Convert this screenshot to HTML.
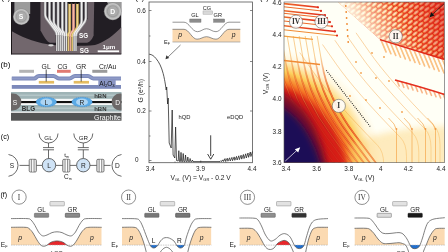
<!DOCTYPE html>
<html><head><meta charset="utf-8"><title>Figure</title>
<style>
html,body{margin:0;padding:0;background:#fff;width:448px;height:252px;overflow:hidden;position:relative;}
svg{display:block;position:absolute;left:0;top:0;}
text{font-family:"Liberation Sans",Arial,sans-serif;}
.serif,.serif text{font-family:"Liberation Serif","Times New Roman",serif;}
</style></head><body>
<svg width="448" height="252" viewBox="0 0 448 252">
<defs>
  <clipPath id="semclip"><rect x="11" y="2" width="110.5" height="52.5"/></clipPath>
  <clipPath id="hmclip"><rect x="284" y="2" width="160.6" height="160.7"/></clipPath>
  <radialGradient id="pad" cx="0.5" cy="0.5" r="0.5">
    <stop offset="0" stop-color="#a8a8a8"/><stop offset="0.6" stop-color="#9c9c9c"/><stop offset="0.85" stop-color="#c8c8c8"/><stop offset="1" stop-color="#8a8a8a"/>
  </radialGradient>
    <radialGradient id="hmell" gradientUnits="userSpaceOnUse" cx="0" cy="0" r="125" fx="0" fy="0" gradientTransform="translate(245.6,168.5) scale(1.1,1)">
    <stop offset="0" stop-color="#8c0e26"/>
    <stop offset="0.55" stop-color="#8c0e26"/>
    <stop offset="0.60" stop-color="#cc1c18"/>
    <stop offset="0.692" stop-color="#de2e1a"/>
    <stop offset="0.745" stop-color="#f47a26"/>
    <stop offset="0.828" stop-color="#fcd05c"/>
    <stop offset="0.924" stop-color="#fff6dc"/>
    <stop offset="1" stop-color="#fffff6"/>
  </radialGradient>
  <radialGradient id="lightzoneg" gradientUnits="userSpaceOnUse" cx="0" cy="0" r="125" fx="0" fy="0" gradientTransform="translate(245.6,168.5) scale(1.1,1)">
    <stop offset="0" stop-color="#000"/><stop offset="0.64" stop-color="#000"/><stop offset="0.72" stop-color="#fff"/><stop offset="1" stop-color="#fff"/>
  </radialGradient>
  <radialGradient id="darkzoneg" gradientUnits="userSpaceOnUse" cx="0" cy="0" r="125" fx="0" fy="0" gradientTransform="translate(245.6,168.5) scale(1.1,1)">
    <stop offset="0" stop-color="#000"/><stop offset="0.50" stop-color="#000"/><stop offset="0.57" stop-color="#fff"/><stop offset="0.66" stop-color="#fff"/><stop offset="0.72" stop-color="#000"/><stop offset="1" stop-color="#000"/>
  </radialGradient>
  <mask id="lightzone" maskUnits="userSpaceOnUse" x="284" y="0" width="162" height="164"><rect x="284" y="0" width="162" height="164" fill="url(#lightzoneg)"/></mask>
  <mask id="darkzone" maskUnits="userSpaceOnUse" x="284" y="0" width="162" height="164"><rect x="284" y="0" width="162" height="164" fill="url(#darkzoneg)"/></mask>
  <filter id="blur3" x="-20%" y="-20%" width="140%" height="140%"><feGaussianBlur stdDeviation="3"/></filter>
  <filter id="blur2" x="-20%" y="-20%" width="140%" height="140%"><feGaussianBlur stdDeviation="2.2"/></filter>
  <linearGradient id="stripefade" gradientUnits="userSpaceOnUse" x1="0" y1="56" x2="0" y2="96">
    <stop offset="0" stop-color="#fff" stop-opacity="0"/>
    <stop offset="1" stop-color="#fff" stop-opacity="1"/>
  </linearGradient>
  <mask id="stripemask" maskUnits="userSpaceOnUse" x="284" y="0" width="162" height="164"><rect x="284" y="0" width="162" height="164" fill="url(#stripefade)"/></mask>
  <linearGradient id="redg" gradientUnits="userSpaceOnUse" x1="360" y1="40" x2="444" y2="2">
    <stop offset="0" stop-color="#f47040"/>
    <stop offset="0.25" stop-color="#ea3a20"/>
    <stop offset="0.6" stop-color="#e42418"/>
    <stop offset="1" stop-color="#d81414"/>
  </linearGradient>
  <linearGradient id="latfade" gradientUnits="userSpaceOnUse" x1="360" y1="40" x2="444" y2="2">
    <stop offset="0" stop-color="#fff" stop-opacity="1"/>
    <stop offset="0.45" stop-color="#fff" stop-opacity="0.9"/>
    <stop offset="1" stop-color="#fff" stop-opacity="0.3"/>
  </linearGradient>
  <mask id="latmask" maskUnits="userSpaceOnUse" x="284" y="0" width="162" height="164"><rect x="284" y="0" width="162" height="164" fill="url(#latfade)"/></mask>
  <pattern id="lat" patternUnits="userSpaceOnUse" x="0" y="0" width="7" height="8.0" patternTransform="rotate(-38 400 30)">
    <ellipse cx="3.5" cy="2.0" rx="3.2" ry="1.55" fill="#ffe070"/>
    <ellipse cx="0" cy="6.0" rx="3.2" ry="1.55" fill="#ffe070"/>
    <ellipse cx="7" cy="6.0" rx="3.2" ry="1.55" fill="#ffe070"/>
    <ellipse cx="3.5" cy="2.0" rx="2.1" ry="0.9" fill="#fff8d8"/>
    <ellipse cx="0" cy="6.0" rx="2.1" ry="0.9" fill="#fff8d8"/>
    <ellipse cx="7" cy="6.0" rx="2.1" ry="0.9" fill="#fff8d8"/>
  </pattern>
  <linearGradient id="leftfade" gradientUnits="userSpaceOnUse" x1="356" y1="24" x2="392" y2="2">
    <stop offset="0" stop-color="#fffff6" stop-opacity="0.85"/>
    <stop offset="0.5" stop-color="#fffff6" stop-opacity="0.4"/>
    <stop offset="1" stop-color="#fffff6" stop-opacity="0"/>
  </linearGradient>
  <linearGradient id="hline" gradientUnits="userSpaceOnUse" x1="284" y1="0" x2="336" y2="0">
    <stop offset="0" stop-color="#ee6a2c"/>
    <stop offset="0.5" stop-color="#e63e20"/>
    <stop offset="1" stop-color="#de2a1c"/>
  </linearGradient>
  <clipPath id="lowclip"><rect x="284" y="118" width="161" height="45"/></clipPath>
  <clipPath id="upclip"><rect x="284" y="2" width="161" height="118"/></clipPath>
</defs>

<!-- ============ (a) SEM ============ -->
<text x="1.5" y="0.4" font-size="7">(a)</text>
<g clip-path="url(#semclip)">
  <rect x="11" y="2" width="110.5" height="52.5" fill="#221e24"/>
  <!-- bottom mauve -->
  <path d="M11,30.7 C20,36 32,41.5 48,44.3 C60,46 80,46.5 95,45 C105,42 114,35 121.5,27 L121.5,54.5 L11,54.5 Z" fill="#72676d"/>
  <!-- central mauve -->
  <path d="M40.5,2 L94.2,2 L93.6,35.5 C92,40 89,42.8 86,42.8 L50,42.8 C47,42 44,37 40.5,30.5 Z" fill="#6a5f66"/>
  <!-- S pad -->
  <rect x="14.4" y="0" width="15.8" height="14" fill="#9c9c9c"/>
  <circle cx="21.3" cy="16.7" r="8.3" fill="url(#pad)"/>
  <circle cx="21.3" cy="16.7" r="4.8" fill="#acacac"/>
  <!-- D pad -->
  <path d="M106,0 L121.5,0 L121.5,12 L110,8 Z" fill="#9a9a9a"/>
  <circle cx="112.8" cy="11.3" r="8.9" fill="url(#pad)"/>
  <circle cx="112.8" cy="11.3" r="5" fill="#acacac"/>
  <path d="M43.8,0 L43.8,15.5 L55.8,32.5 L55.8,51 L77,51 L77,33.5 L87.6,19 L87.6,0 Z" fill="#2e2930"/>
<path d="M45.20,0 L45.20,14.34 Q45.20,16.84 46.59,18.72 L55.41,30.62 Q56.80,32.50 56.80,35.00" fill="none" stroke="#a4a4a6" stroke-width="2.7" stroke-linejoin="round"/>
<path d="M49.50,0 L49.50,17.70 Q49.50,20.20 50.62,21.70 L57.68,31.24 Q58.80,32.75 58.80,35.25" fill="none" stroke="#a4a4a6" stroke-width="2.7" stroke-linejoin="round"/>
<path d="M53.80,0 L53.80,21.05 Q53.80,23.55 54.64,24.68 L59.96,31.87 Q60.80,33.00 60.80,35.50" fill="none" stroke="#a4a4a6" stroke-width="2.7" stroke-linejoin="round"/>
<path d="M58.10,0 L58.10,24.54 Q58.10,27.04 58.65,27.79 L62.15,32.50 Q62.70,33.25 62.70,35.75" fill="none" stroke="#a4a4a6" stroke-width="2.7" stroke-linejoin="round"/>
<path d="M62.40,0 L62.40,28.03 Q62.40,30.53 62.66,30.89 L64.34,33.14 Q64.60,33.50 64.60,36.00" fill="none" stroke="#a4a4a6" stroke-width="2.7" stroke-linejoin="round"/>
<path d="M66.20,0 L66.20,30.85 Q66.20,33.35 66.24,33.39 L66.46,33.70 Q66.50,33.75 66.50,36.25" fill="none" stroke="#a4a4a6" stroke-width="2.7" stroke-linejoin="round"/>
<path d="M69.60,0 L69.60,29.88 Q69.60,32.38 69.46,32.57 L68.54,33.81 Q68.40,34.00 68.40,36.50" fill="none" stroke="#c8a850" stroke-width="2.7" stroke-linejoin="round"/>
<path d="M73.50,0 L73.50,27.43 Q73.50,29.93 73.12,30.45 L70.68,33.73 Q70.30,34.25 70.30,36.75" fill="none" stroke="#d89080" stroke-width="2.7" stroke-linejoin="round"/>
<path d="M77.40,0 L77.40,24.98 Q77.40,27.48 76.78,28.32 L72.82,33.66 Q72.20,34.50 72.20,37.00" fill="none" stroke="#c8a850" stroke-width="2.7" stroke-linejoin="round"/>
<path d="M81.60,0 L81.60,20.88 Q81.60,23.38 80.70,24.59 L75.00,32.28 Q74.10,33.50 74.10,36.00" fill="none" stroke="#a4a4a6" stroke-width="2.7" stroke-linejoin="round"/>
<path d="M85.80,0 L85.80,17.77 Q85.80,20.27 84.62,21.86 L77.18,31.91 Q76.00,33.50 76.00,36.00" fill="none" stroke="#a4a4a6" stroke-width="2.7" stroke-linejoin="round"/>
<path d="M45.20,0 L45.20,14.34 Q45.20,16.84 46.59,18.72 L55.41,30.62 Q56.80,32.50 56.80,35.00" fill="none" stroke="#f0f0f0" stroke-width="1.3" stroke-linejoin="round"/>
<path d="M49.50,0 L49.50,17.70 Q49.50,20.20 50.62,21.70 L57.68,31.24 Q58.80,32.75 58.80,35.25" fill="none" stroke="#f0f0f0" stroke-width="1.3" stroke-linejoin="round"/>
<path d="M53.80,0 L53.80,21.05 Q53.80,23.55 54.64,24.68 L59.96,31.87 Q60.80,33.00 60.80,35.50" fill="none" stroke="#f0f0f0" stroke-width="1.3" stroke-linejoin="round"/>
<path d="M58.10,0 L58.10,24.54 Q58.10,27.04 58.65,27.79 L62.15,32.50 Q62.70,33.25 62.70,35.75" fill="none" stroke="#f0f0f0" stroke-width="1.3" stroke-linejoin="round"/>
<path d="M62.40,0 L62.40,28.03 Q62.40,30.53 62.66,30.89 L64.34,33.14 Q64.60,33.50 64.60,36.00" fill="none" stroke="#f0f0f0" stroke-width="1.3" stroke-linejoin="round"/>
<path d="M66.20,0 L66.20,30.85 Q66.20,33.35 66.24,33.39 L66.46,33.70 Q66.50,33.75 66.50,36.25" fill="none" stroke="#f0f0f0" stroke-width="1.3" stroke-linejoin="round"/>
<path d="M69.60,0 L69.60,29.88 Q69.60,32.38 69.46,32.57 L68.54,33.81 Q68.40,34.00 68.40,36.50" fill="none" stroke="#ecd490" stroke-width="1.3" stroke-linejoin="round"/>
<path d="M73.50,0 L73.50,27.43 Q73.50,29.93 73.12,30.45 L70.68,33.73 Q70.30,34.25 70.30,36.75" fill="none" stroke="#f4b8a8" stroke-width="1.3" stroke-linejoin="round"/>
<path d="M77.40,0 L77.40,24.98 Q77.40,27.48 76.78,28.32 L72.82,33.66 Q72.20,34.50 72.20,37.00" fill="none" stroke="#ecd490" stroke-width="1.3" stroke-linejoin="round"/>
<path d="M81.60,0 L81.60,20.88 Q81.60,23.38 80.70,24.59 L75.00,32.28 Q74.10,33.50 74.10,36.00" fill="none" stroke="#f0f0f0" stroke-width="1.3" stroke-linejoin="round"/>
<path d="M85.80,0 L85.80,17.77 Q85.80,20.27 84.62,21.86 L77.18,31.91 Q76.00,33.50 76.00,36.00" fill="none" stroke="#f0f0f0" stroke-width="1.3" stroke-linejoin="round"/>
<path d="M56.80,34.90 L56.80,51" fill="none" stroke="#a4a4a6" stroke-width="1.6"/>
<path d="M58.80,35.15 L58.80,51" fill="none" stroke="#a4a4a6" stroke-width="1.6"/>
<path d="M60.80,35.40 L60.80,51" fill="none" stroke="#a4a4a6" stroke-width="1.6"/>
<path d="M62.70,35.65 L62.70,51" fill="none" stroke="#a4a4a6" stroke-width="1.6"/>
<path d="M64.60,35.90 L64.60,51" fill="none" stroke="#a4a4a6" stroke-width="1.6"/>
<path d="M66.50,36.15 L66.50,51" fill="none" stroke="#a4a4a6" stroke-width="1.6"/>
<path d="M68.40,36.40 L68.40,51" fill="none" stroke="#c8a850" stroke-width="1.6"/>
<path d="M70.30,36.65 L70.30,51" fill="none" stroke="#d89080" stroke-width="1.6"/>
<path d="M72.20,36.90 L72.20,51" fill="none" stroke="#c8a850" stroke-width="1.6"/>
<path d="M74.10,35.90 L74.10,51" fill="none" stroke="#a4a4a6" stroke-width="1.6"/>
<path d="M76.00,35.90 L76.00,51" fill="none" stroke="#a4a4a6" stroke-width="1.6"/>
<path d="M56.80,34.90 L56.80,51" fill="none" stroke="#f0f0f0" stroke-width="0.8"/>
<path d="M58.80,35.15 L58.80,51" fill="none" stroke="#f0f0f0" stroke-width="0.8"/>
<path d="M60.80,35.40 L60.80,51" fill="none" stroke="#f0f0f0" stroke-width="0.8"/>
<path d="M62.70,35.65 L62.70,51" fill="none" stroke="#f0f0f0" stroke-width="0.8"/>
<path d="M64.60,35.90 L64.60,51" fill="none" stroke="#f0f0f0" stroke-width="0.8"/>
<path d="M66.50,36.15 L66.50,51" fill="none" stroke="#f0f0f0" stroke-width="0.8"/>
<path d="M68.40,36.40 L68.40,51" fill="none" stroke="#ecd490" stroke-width="0.8"/>
<path d="M70.30,36.65 L70.30,51" fill="none" stroke="#f4b8a8" stroke-width="0.8"/>
<path d="M72.20,36.90 L72.20,51" fill="none" stroke="#ecd490" stroke-width="0.8"/>
<path d="M74.10,35.90 L74.10,51" fill="none" stroke="#f0f0f0" stroke-width="0.8"/>
<path d="M76.00,35.90 L76.00,51" fill="none" stroke="#f0f0f0" stroke-width="0.8"/>
<circle cx="69.6" cy="2.4" r="1.7" fill="#0e0e0e"/>
<circle cx="73.5" cy="2.4" r="1.7" fill="#0e0e0e"/>
<circle cx="77.4" cy="2.4" r="1.7" fill="#0e0e0e"/>
  <rect x="11" y="2" width="1" height="52.5" fill="#1a1618"/>
  <rect x="11" y="53.6" width="110.5" height="0.9" fill="#1a1618"/>
  <ellipse cx="51" cy="45.3" rx="2.8" ry="1.1" fill="#d8d8d8"/>
  <rect x="97.7" y="50.4" width="21.4" height="1.8" fill="#fff"/>
</g>
<g fill="#fff" font-size="6.4">
  <text x="20.9" y="19.3" text-anchor="middle" font-size="6.8" font-weight="bold">S</text>
  <text x="112.8" y="13.9" text-anchor="middle" font-size="6.8" font-weight="bold">D</text>
  <text x="79" y="38" font-size="6.3" font-weight="bold">SG</text>
  <text x="79.8" y="53.2" font-size="6.3" font-weight="bold">SG</text>
  <text x="102.6" y="48.7" font-size="6.2" font-weight="bold">1μm</text>
</g>

<!-- ============ (b) ============ -->
<text x="0.6" y="66.6" font-size="8">(b)</text>
<g font-size="6.8" fill="#222">
  <text x="41.6" y="68.6">GL</text>
  <text x="57.4" y="68.6">CG</text>
  <text x="76" y="68.6">GR</text>
  <text x="99" y="68.6">Cr/Au</text>
</g>
<rect x="19.2" y="69.8" width="14.8" height="3" fill="#b4b4b4"/>
<rect x="57" y="69.8" width="13.7" height="3" fill="#e07a72"/>
<rect x="92.3" y="69.8" width="15" height="3" fill="#9a9a9a"/>
<path d="M11.8,78.5 L34.5,78.5 C36,78.5 36.5,76 39,76 L53.5,76 C56,76 56.5,78.5 59,78.5 L69.5,78.5 C72,78.5 72.5,76 75,76 L88,76 C90.5,76 91,78.5 93.5,78.5 L121,78.5" fill="none" stroke="#7c89ba" stroke-width="4.2"/>
<path d="M11.8,78.5 L34.5,78.5 C36,78.5 36.5,76 39,76 L53.5,76 C56,76 56.5,78.5 59,78.5 L69.5,78.5 C72,78.5 72.5,76 75,76 L88,76 C90.5,76 91,78.5 93.5,78.5 L121,78.5" fill="none" stroke="#8e9ac6" stroke-width="2"/>
<rect x="38.8" y="80.9" width="15.3" height="2.7" fill="#e4bc62"/>
<rect x="73.7" y="80.9" width="15.3" height="2.7" fill="#e4bc62"/>
<line x1="46.2" y1="69.5" x2="46.2" y2="81.5" stroke="#111" stroke-width="0.7"/>
<line x1="81.2" y1="69.5" x2="81.2" y2="81.5" stroke="#111" stroke-width="0.7"/>
<rect x="11.8" y="85" width="109.2" height="3.8" fill="#7c89ba"/>
<rect x="98.3" y="80" width="17.4" height="6" fill="#8a96c4"/>
<text x="99.2" y="85.8" font-size="6.4" fill="#111">Al<tspan font-size="4.2" dy="1.2">2</tspan><tspan dy="-1.2">O</tspan><tspan font-size="4.2" dy="1.2">3</tspan></text>

<!-- hBN stack -->
<rect x="11" y="92" width="110.5" height="19.6" fill="#9fb4b6"/>
<rect x="11" y="94.5" width="110.5" height="1.6" fill="#b4c6c8"/>
<rect x="11" y="107.5" width="110.5" height="1.6" fill="#b4c6c8"/>
<rect x="11" y="98.8" width="110.5" height="6.2" fill="#f6f8f8"/>
<rect x="11" y="101" width="110.5" height="2.1" fill="#111"/>
<rect x="11" y="112.8" width="110.5" height="7.9" fill="#545454"/>
<path d="M11,93.8 A8.3,8.3 0 0 1 11,110.4 Z" transform="translate(0,0)" fill="#6c6868"/>
<path d="M11,93.6 L13,93.6 A8.4,8.4 0 0 1 13,110.4 L11,110.4 Z" fill="#6c6868"/>
<path d="M121.5,93.6 L120,93.6 A8.4,8.4 0 0 0 120,110.4 L121.5,110.4 Z" fill="#6c6868"/>
<ellipse cx="46.3" cy="102" rx="10.3" ry="4.8" fill="#5aaae6" stroke="#3a7cc0" stroke-width="0.5" stroke-dasharray="1,0.8"/>
<ellipse cx="46.3" cy="102" rx="6" ry="3.6" fill="#cfe6f8" opacity="0.7"/>
<ellipse cx="82" cy="102" rx="10.3" ry="4.8" fill="#5aaae6" stroke="#3a7cc0" stroke-width="0.5" stroke-dasharray="1,0.8"/>
<ellipse cx="82" cy="102" rx="6" ry="3.6" fill="#cfe6f8" opacity="0.7"/>
<g font-size="6.6" fill="#222">
  <text x="46.3" y="104.6" text-anchor="middle">L</text>
  <text x="82" y="104.6" text-anchor="middle">R</text>
  <text x="21.8" y="111.3" font-size="6.3" font-weight="bold" fill="#333">BLG</text>
  <text x="94.2" y="97.7" font-size="6" font-weight="bold" fill="#333">hBN</text>
  <text x="94.2" y="110.9" font-size="6" font-weight="bold" fill="#333">hBN</text>
</g>
<text x="15" y="104.6" font-size="6.6" fill="#fff" text-anchor="middle">S</text>
<text x="117.6" y="104.6" font-size="6.6" fill="#fff" text-anchor="middle">D</text>
<text x="94" y="120" font-size="7" fill="#fff">Graphite</text>

<!-- ============ (c) ============ -->
<text x="0.8" y="138.8" font-size="7.2">(c)</text>
<g fill="none" stroke="#444" stroke-width="0.8">
  <!-- S, D arcs -->
  <path d="M8.5,154.5 A11,11 0 0 1 8.5,176.3"/>
  <path d="M121.5,154.5 A11,11 0 0 0 121.5,176.3"/>
  <!-- main line -->
  <line x1="19.5" y1="165.4" x2="42.2" y2="165.4"/>
  <line x1="55.8" y1="165.4" x2="76.6" y2="165.4"/>
  <line x1="90" y1="165.4" x2="110.6" y2="165.4"/>
  <!-- bowls -->
  <path d="M39,133.5 A9.5,9.5 0 0 0 58,133.5"/>
  <path d="M73.8,133.5 A9.5,9.5 0 0 0 92.8,133.5"/>
  <line x1="48.5" y1="143" x2="48.5" y2="147.6"/>
  <line x1="48.5" y1="149.8" x2="48.5" y2="158.4"/>
  <line x1="83.3" y1="143" x2="83.3" y2="147.6"/>
  <line x1="83.3" y1="149.8" x2="83.3" y2="158.4"/>
  <line x1="43" y1="147.6" x2="54" y2="147.6"/>
  <line x1="43" y1="149.8" x2="54" y2="149.8"/>
  <line x1="77.8" y1="147.6" x2="88.8" y2="147.6"/>
  <line x1="77.8" y1="149.8" x2="88.8" y2="149.8"/>
</g>
<rect x="29.2" y="159.3" width="7.2" height="12.7" rx="1.2" fill="#e4e4e4" stroke="#555" stroke-width="0.75"/>
<rect x="31.8" y="159.7" width="2.0" height="11.9" fill="#fff"/>
<line x1="31.6" y1="159.3" x2="31.6" y2="172" stroke="#555" stroke-width="0.6"/>
<line x1="34.0" y1="159.3" x2="34.0" y2="172" stroke="#555" stroke-width="0.6"/>
<rect x="62.7" y="159.3" width="7.2" height="12.7" rx="1.2" fill="#e4e4e4" stroke="#555" stroke-width="0.75"/>
<rect x="65.3" y="159.7" width="2.0" height="11.9" fill="#fff"/>
<line x1="65.1" y1="159.3" x2="65.1" y2="172" stroke="#555" stroke-width="0.6"/>
<line x1="67.5" y1="159.3" x2="67.5" y2="172" stroke="#555" stroke-width="0.6"/>
<rect x="96.8" y="159.3" width="7.2" height="12.7" rx="1.2" fill="#e4e4e4" stroke="#555" stroke-width="0.75"/>
<rect x="99.4" y="159.7" width="2.0" height="11.9" fill="#fff"/>
<line x1="99.2" y1="159.3" x2="99.2" y2="172" stroke="#555" stroke-width="0.6"/>
<line x1="101.6" y1="159.3" x2="101.6" y2="172" stroke="#555" stroke-width="0.6"/>
<circle cx="49" cy="165.2" r="6.7" fill="#cfe3f6" stroke="#444" stroke-width="0.8"/>
<circle cx="83.3" cy="165.2" r="6.7" fill="#cfe3f6" stroke="#444" stroke-width="0.8"/>
<g font-size="6.6" fill="#222" text-anchor="middle">
  <text x="49" y="167.6">L</text>
  <text x="83.3" y="167.6">R</text>
  <text x="48.5" y="140.2" font-size="6.2">GL</text>
  <text x="83.3" y="140.2" font-size="6.2">GR</text>
  <text x="12" y="168">S</text>
  <text x="117.5" y="168">D</text>
</g>
<text x="64.2" y="156.8" font-size="6.2" fill="#222">t<tspan font-size="3.6" dy="1">m</tspan></text>
<text x="64" y="179" font-size="6.4" fill="#222">C<tspan font-size="3.6" dy="1">m</tspan></text>

<!-- ============ (d) ============ -->
<text x="135.5" y="0.4" font-size="7">(d)</text>
<rect x="149" y="2" width="103.5" height="160.7" fill="none" stroke="#555" stroke-width="0.8"/>
<g stroke="#555" stroke-width="0.7">
  <line x1="149" y1="10.5" x2="151.5" y2="10.5"/>
  <line x1="149" y1="36" x2="150.5" y2="36"/>
  <line x1="149" y1="61.5" x2="151.5" y2="61.5"/>
  <line x1="149" y1="86.5" x2="150.5" y2="86.5"/>
  <line x1="149" y1="111" x2="151.5" y2="111"/>
  <line x1="149" y1="136" x2="150.5" y2="136"/>
  <line x1="149" y1="160.5" x2="151.5" y2="160.5"/>
  <line x1="252.5" y1="10.5" x2="250" y2="10.5"/>
  <line x1="252.5" y1="61.5" x2="250" y2="61.5"/>
  <line x1="252.5" y1="111" x2="250" y2="111"/>
  <line x1="200.75" y1="162.7" x2="200.75" y2="160.5"/>
  <line x1="175" y1="162.7" x2="175" y2="161.5"/>
  <line x1="226" y1="162.7" x2="226" y2="161.5"/>
</g>
<g font-size="6.4" fill="#222" text-anchor="end">
  <text x="145.8" y="12.6">0.6</text>
  <text x="145.8" y="63.8">0.4</text>
  <text x="145.8" y="113.2">0.2</text>
  <text x="138.6" y="162.2">0</text>
</g>
<g font-size="6.4" fill="#222" text-anchor="middle">
  <text x="150.3" y="170.6">3.4</text>
  <text x="200.5" y="170.6">3.9</text>
  <text x="252" y="170.6">4.4</text>
</g>
<text transform="translate(143.4,102.4) rotate(-90)" font-size="6.8" fill="#222">G (e<tspan font-size="4.2" dy="-2.2">2</tspan><tspan dy="2.2">/h)</tspan></text>
<text x="170.6" y="179.6" font-size="6.7" fill="#222">V<tspan font-size="4" dy="1.2">GL</tspan><tspan dy="-1.2"> (V) = V</tspan><tspan font-size="4" dy="1.2">GR</tspan><tspan dy="-1.2"> - 0.2 V</tspan></text>
<text x="178.6" y="119.4" font-size="5.8" fill="#222">hQD</text>
<text x="227" y="119.4" font-size="5.8" fill="#222">eDQD</text>
<!-- G curve -->
<path d="M149.2,54.2 C152,54.5 154,56 156,58.5 C159,62 161.5,67 163.2,73.6 C164.3,78 164.8,81 165.3,84
 L166.2,90 L166.7,87 L167.6,104 L168.2,98 L169.2,143 L171.2,148 L172.2,110 L173.1,155 L174.8,158 L175.6,127 L176.5,160.5 L178.2,161 L178.8,150.7 L179.5,161.5 L180.4,161.5 L181,152.4 L181.7,161.6 L182.6,161.6 L183.2,153.5 L183.9,161.6 L184.9,161.6 L185.5,155 L186.2,161.6 L187.2,161.6 L187.8,157 L188.5,161.6 L189.5,161.6 L190.1,158.5 L190.8,161.6 L191.8,161.6 L192.4,160 L193,161.6 L220,161.6
 L221,160.6 L221.6,161.6 L223,159.8 L223.6,161.5 L225,158.6 L225.6,161.4 L227.3,158.2 L227.9,161.2 L229.6,157.8 L230.2,161 L231.9,157.4 L232.5,160.7 L234.2,156.9 L234.8,160.3 L236.5,156.4 L237.1,160 L238.8,155.8 L239.4,159.6 L241.1,155.2 L241.7,159.1 L243.4,154.5 L244,158.6 L245.7,153.8 L246.3,158 L248,153 L248.6,157.3 L250.3,152 L250.9,156.5 L252.5,151.5"
 fill="none" stroke="#222" stroke-width="0.75" stroke-linejoin="round"/>
<!-- arrows -->
<line x1="180.5" y1="45" x2="167.5" y2="57.5" stroke="#333" stroke-width="0.6"/>
<path d="M165.5,59.3 L166.4,55.3 L169.2,58 Z" fill="#333"/>
<line x1="210.7" y1="135.3" x2="210.7" y2="156" stroke="#111" stroke-width="0.8"/>
<path d="M207.6,154 L210.7,159.2 L213.8,154" fill="none" stroke="#111" stroke-width="0.8"/>
<!-- inset -->
<path d="M172.5,29.3 L184,29.3 C189,29.3 192,39.2 197,39.2 C201,39.2 203,36.7 206.5,36.7 C210,36.7 212,39.2 216,39.2 C221,39.2 224,29.3 229,29.3 L240.3,29.3 L240.3,42 L172.5,42 Z" fill="#fbd9b0"/>
<path d="M172.5,29.3 L184,29.3 C189,29.3 192,39.2 197,39.2 C201,39.2 203,36.7 206.5,36.7 C210,36.7 212,39.2 216,39.2 C221,39.2 224,29.3 229,29.3 L240.3,29.3" fill="none" stroke="#666" stroke-width="0.7"/>
<path d="M172.5,22.2 L184,22.2 C189,22.2 192,31.7 197.5,31.7 C201,31.7 203,28.7 206.5,28.7 C210,28.7 212,31.7 216,31.7 C221,31.7 224,22.2 229,22.2 L240.3,22.2" fill="none" stroke="#666" stroke-width="0.7"/>
<line x1="172.5" y1="42" x2="240.3" y2="42" stroke="#999" stroke-width="0.7"/>
<rect x="203" y="10.9" width="9.6" height="3.3" fill="#d8d8d8" stroke="#999" stroke-width="0.4"/>
<rect x="189.8" y="19" width="11.2" height="3.2" fill="#8c8c8c" stroke="#666" stroke-width="0.4"/>
<rect x="213.6" y="19" width="11" height="3.2" fill="#8c8c8c" stroke="#666" stroke-width="0.4"/>
<g font-size="5.6" fill="#222">
  <text x="202.7" y="9.9">CG</text>
  <text x="191.2" y="17.4">GL</text>
  <text x="213.6" y="17.4">GR</text>
  <text x="178.2" y="36.6" font-size="6.8" font-style="italic">p</text>
  <text x="231.8" y="36.6" font-size="6.8" font-style="italic">p</text>
  <text x="164" y="44.3">E<tspan font-size="3.6" dy="1">F</tspan></text>
</g>

<!-- ============ (e) heatmap ============ -->
<text x="260" y="0.4" font-size="7">(e)</text>
<g clip-path="url(#hmclip)">
<rect x="284" y="2" width="160.6" height="160.7" fill="url(#hmell)"/>
<g mask="url(#stripemask)"><g mask="url(#lightzone)">
<path d="M259.6,50.2 L262.0,64.0 Q268.0,99.0 295.0,135.0 L349.0,207.0" fill="none" stroke="#e43a1c" stroke-width="1.7" opacity="0.9"/>
<path d="M265.6,50.2 L268.0,64.0 Q274.0,99.0 301.0,135.0 L355.0,207.0" fill="none" stroke="#e43a1c" stroke-width="1.7" opacity="0.9"/>
<path d="M271.6,50.2 L274.0,64.0 Q280.0,99.0 307.0,135.0 L361.0,207.0" fill="none" stroke="#e43a1c" stroke-width="1.7" opacity="0.9"/>
<path d="M277.6,50.2 L280.0,64.0 Q286.0,99.0 313.0,135.0 L367.0,207.0" fill="none" stroke="#e43a1c" stroke-width="1.7" opacity="0.9"/>
<path d="M283.6,50.2 L286.0,64.0 Q292.0,99.0 319.0,135.0 L373.0,207.0" fill="none" stroke="#e43a1c" stroke-width="1.7" opacity="0.9"/>
<path d="M289.6,50.2 L292.0,64.0 Q298.0,99.0 325.0,135.0 L379.0,207.0" fill="none" stroke="#e43a1c" stroke-width="1.7" opacity="0.9"/>
<path d="M295.6,50.2 L298.0,64.0 Q304.0,99.0 331.0,135.0 L385.0,207.0" fill="none" stroke="#e43a1c" stroke-width="1.7" opacity="0.9"/>
<path d="M301.6,50.2 L304.0,64.0 Q310.0,99.0 337.0,135.0 L391.0,207.0" fill="none" stroke="#e43a1c" stroke-width="1.7" opacity="0.9"/>
<path d="M307.6,50.2 L310.0,64.0 Q316.0,99.0 343.0,135.0 L397.0,207.0" fill="none" stroke="#e43a1c" stroke-width="1.7" opacity="0.9"/>
<path d="M313.6,50.2 L316.0,64.0 Q322.0,99.0 349.0,135.0 L403.0,207.0" fill="none" stroke="#e43a1c" stroke-width="1.7" opacity="0.9"/>
<path d="M319.6,50.2 L322.0,64.0 Q328.0,99.0 355.0,135.0 L409.0,207.0" fill="none" stroke="#e43a1c" stroke-width="1.7" opacity="0.9"/>
</g><g mask="url(#darkzone)">
<path d="M259.6,50.2 L262.0,64.0 Q268.0,99.0 295.0,135.0 L349.0,207.0" fill="none" stroke="#700a1c" stroke-width="2.0" opacity="0.5"/>
<path d="M265.6,50.2 L268.0,64.0 Q274.0,99.0 301.0,135.0 L355.0,207.0" fill="none" stroke="#700a1c" stroke-width="2.0" opacity="0.5"/>
<path d="M271.6,50.2 L274.0,64.0 Q280.0,99.0 307.0,135.0 L361.0,207.0" fill="none" stroke="#700a1c" stroke-width="2.0" opacity="0.5"/>
<path d="M277.6,50.2 L280.0,64.0 Q286.0,99.0 313.0,135.0 L367.0,207.0" fill="none" stroke="#700a1c" stroke-width="2.0" opacity="0.5"/>
<path d="M283.6,50.2 L286.0,64.0 Q292.0,99.0 319.0,135.0 L373.0,207.0" fill="none" stroke="#700a1c" stroke-width="2.0" opacity="0.5"/>
<path d="M289.6,50.2 L292.0,64.0 Q298.0,99.0 325.0,135.0 L379.0,207.0" fill="none" stroke="#700a1c" stroke-width="2.0" opacity="0.5"/>
<path d="M295.6,50.2 L298.0,64.0 Q304.0,99.0 331.0,135.0 L385.0,207.0" fill="none" stroke="#700a1c" stroke-width="2.0" opacity="0.5"/>
<path d="M301.6,50.2 L304.0,64.0 Q310.0,99.0 337.0,135.0 L391.0,207.0" fill="none" stroke="#700a1c" stroke-width="2.0" opacity="0.5"/>
<path d="M307.6,50.2 L310.0,64.0 Q316.0,99.0 343.0,135.0 L397.0,207.0" fill="none" stroke="#700a1c" stroke-width="2.0" opacity="0.5"/>
<path d="M313.6,50.2 L316.0,64.0 Q322.0,99.0 349.0,135.0 L403.0,207.0" fill="none" stroke="#700a1c" stroke-width="2.0" opacity="0.5"/>
<path d="M319.6,50.2 L322.0,64.0 Q328.0,99.0 355.0,135.0 L409.0,207.0" fill="none" stroke="#700a1c" stroke-width="2.0" opacity="0.5"/>
</g></g>
<path d="M257.2,36 L262.0,64 Q268.0,99.0 295.0,135.0 L349.0,207.0" fill="none" stroke="#f4a844" stroke-width="0.7" opacity="0.8"/>
<path d="M263.2,36 L268.0,64 Q274.0,99.0 301.0,135.0 L355.0,207.0" fill="none" stroke="#f4a844" stroke-width="0.7" opacity="0.8"/>
<path d="M269.2,36 L274.0,64 Q280.0,99.0 307.0,135.0 L361.0,207.0" fill="none" stroke="#f4a844" stroke-width="0.7" opacity="0.8"/>
<path d="M275.2,36 L280.0,64 Q286.0,99.0 313.0,135.0 L367.0,207.0" fill="none" stroke="#f4a844" stroke-width="0.7" opacity="0.8"/>
<path d="M281.2,36 L286.0,64 Q292.0,99.0 319.0,135.0 L373.0,207.0" fill="none" stroke="#f4a844" stroke-width="0.7" opacity="0.8"/>
<path d="M287.2,36 L292.0,64 Q298.0,99.0 325.0,135.0 L379.0,207.0" fill="none" stroke="#f4a844" stroke-width="0.7" opacity="0.8"/>
<path d="M293.2,36 L298.0,64 Q304.0,99.0 331.0,135.0 L385.0,207.0" fill="none" stroke="#f4a844" stroke-width="0.7" opacity="0.8"/>
<path d="M299.2,36 L304.0,64 Q310.0,99.0 337.0,135.0 L391.0,207.0" fill="none" stroke="#f4a844" stroke-width="0.7" opacity="0.8"/>
<path d="M305.2,36 L310.0,64 Q316.0,99.0 343.0,135.0 L397.0,207.0" fill="none" stroke="#f4a844" stroke-width="0.7" opacity="0.8"/>
<path d="M311.2,36 L316.0,64 Q322.0,99.0 349.0,135.0 L403.0,207.0" fill="none" stroke="#f4a844" stroke-width="0.7" opacity="0.8"/>
<path d="M317.2,36 L322.0,64 Q328.0,99.0 355.0,135.0 L409.0,207.0" fill="none" stroke="#f4a844" stroke-width="0.7" opacity="0.8"/>
<path d="M299.7,52.5 L313.7,72.5 Q331.7,98.5 377.7,145.5 Q383.7,151.5 383.7,164.5 L383.7,163" fill="none" stroke="#f39a36" stroke-width="0.7" opacity="0.6"/>
<path d="M322.5,44.5 L336.5,64.5 Q354.5,90.5 400.5,137.6 Q406.5,143.6 406.5,156.6 L406.5,163" fill="none" stroke="#f39a36" stroke-width="0.7" opacity="0.6"/>
<path d="M334.8,40.2 L348.8,60.2 Q366.8,86.2 412.8,133.2 Q418.8,139.2 418.8,152.2 L418.8,163" fill="none" stroke="#f39a36" stroke-width="0.7" opacity="0.6"/>
<path d="M347.0,36.0 L361.0,56.0 Q379.0,82.0 425.0,129.0 Q431.0,135.0 431.0,148.0 L431.0,163" fill="none" stroke="#f39a36" stroke-width="0.7" opacity="0.6"/>
<path d="M356.0,32.8 L370.0,52.8 Q388.0,78.8 434.0,125.8 Q440.0,131.8 440.0,144.8 L440.0,163" fill="none" stroke="#f39a36" stroke-width="0.7" opacity="0.6"/>
<path d="M276,86 L276,170 L349,170 C343,150 332,132 318,116 C305,102 292,94 276,86 Z" fill="#d61e16" filter="url(#blur3)" opacity="0.85"/>
<path d="M276,88 L276,170 L328,170 C324,150 318,130 308,116 C300,105 289,97 276,88 Z" fill="#780c2a" filter="url(#blur3)"/>
<path d="M276,103 L276,170 L322,170 C319,156 313,141 305,129 C298,118 288,110 276,103 Z" fill="#1e0c56" filter="url(#blur3)"/>
<path d="M350,168 L350,146 C370,134 400,128 450,126 L450,168 Z" fill="#fcd070" opacity="0.42" filter="url(#blur3)"/>
<path d="M338,2 L444.6,2 L444.6,59.5 L380,39.6 Z" fill="url(#redg)"/>
<path d="M338,2 L444.6,2 L444.6,59.5 L380,39.6 Z" fill="url(#lat)" mask="url(#latmask)"/>
<path d="M338,2 L444.6,2 L444.6,59.5 L380,39.6 Z" fill="url(#leftfade)"/>
<line x1="381.0" y1="39.9" x2="386.0" y2="51.9" stroke="#f47a30" stroke-width="1.6" stroke-linecap="round" opacity="0.5"/>
<line x1="382.2" y1="42.9" x2="386.0" y2="51.9" stroke="#fcd070" stroke-width="1.0" stroke-linecap="round" opacity="0.6"/>
<line x1="385.7" y1="41.4" x2="390.9" y2="53.7" stroke="#f47a30" stroke-width="1.6" stroke-linecap="round" opacity="0.5"/>
<line x1="386.9" y1="44.4" x2="390.9" y2="53.7" stroke="#fcd070" stroke-width="1.0" stroke-linecap="round" opacity="0.6"/>
<line x1="390.4" y1="42.8" x2="395.7" y2="55.4" stroke="#f47a30" stroke-width="1.6" stroke-linecap="round" opacity="0.5"/>
<line x1="391.6" y1="45.8" x2="395.7" y2="55.4" stroke="#fcd070" stroke-width="1.0" stroke-linecap="round" opacity="0.6"/>
<line x1="395.1" y1="44.3" x2="400.5" y2="57.2" stroke="#f47a30" stroke-width="1.6" stroke-linecap="round" opacity="0.5"/>
<line x1="396.3" y1="47.3" x2="400.5" y2="57.2" stroke="#fcd070" stroke-width="1.0" stroke-linecap="round" opacity="0.6"/>
<line x1="399.8" y1="45.7" x2="405.3" y2="58.9" stroke="#f47a30" stroke-width="1.6" stroke-linecap="round" opacity="0.5"/>
<line x1="401.0" y1="48.7" x2="405.3" y2="58.9" stroke="#fcd070" stroke-width="1.0" stroke-linecap="round" opacity="0.6"/>
<line x1="404.5" y1="47.1" x2="410.2" y2="60.6" stroke="#f47a30" stroke-width="1.6" stroke-linecap="round" opacity="0.5"/>
<line x1="405.7" y1="50.1" x2="410.2" y2="60.6" stroke="#fcd070" stroke-width="1.0" stroke-linecap="round" opacity="0.6"/>
<line x1="409.2" y1="48.6" x2="415.0" y2="62.4" stroke="#f47a30" stroke-width="1.6" stroke-linecap="round" opacity="0.5"/>
<line x1="410.4" y1="51.6" x2="415.0" y2="62.4" stroke="#fcd070" stroke-width="1.0" stroke-linecap="round" opacity="0.6"/>
<line x1="413.9" y1="50.0" x2="419.8" y2="64.1" stroke="#f47a30" stroke-width="1.6" stroke-linecap="round" opacity="0.5"/>
<line x1="415.1" y1="53.0" x2="419.8" y2="64.1" stroke="#fcd070" stroke-width="1.0" stroke-linecap="round" opacity="0.6"/>
<line x1="418.6" y1="51.5" x2="424.6" y2="65.9" stroke="#f47a30" stroke-width="1.6" stroke-linecap="round" opacity="0.5"/>
<line x1="419.8" y1="54.5" x2="424.6" y2="65.9" stroke="#fcd070" stroke-width="1.0" stroke-linecap="round" opacity="0.6"/>
<line x1="423.3" y1="52.9" x2="429.5" y2="67.6" stroke="#f47a30" stroke-width="1.6" stroke-linecap="round" opacity="0.5"/>
<line x1="424.5" y1="55.9" x2="429.5" y2="67.6" stroke="#fcd070" stroke-width="1.0" stroke-linecap="round" opacity="0.6"/>
<line x1="428.0" y1="54.4" x2="434.3" y2="69.4" stroke="#f47a30" stroke-width="1.6" stroke-linecap="round" opacity="0.5"/>
<line x1="429.2" y1="57.4" x2="434.3" y2="69.4" stroke="#fcd070" stroke-width="1.0" stroke-linecap="round" opacity="0.6"/>
<line x1="432.7" y1="55.8" x2="439.1" y2="71.1" stroke="#f47a30" stroke-width="1.6" stroke-linecap="round" opacity="0.5"/>
<line x1="433.9" y1="58.8" x2="439.1" y2="71.1" stroke="#fcd070" stroke-width="1.0" stroke-linecap="round" opacity="0.6"/>
<line x1="437.4" y1="57.3" x2="444.0" y2="72.9" stroke="#f47a30" stroke-width="1.6" stroke-linecap="round" opacity="0.5"/>
<line x1="438.6" y1="60.3" x2="444.0" y2="72.9" stroke="#fcd070" stroke-width="1.0" stroke-linecap="round" opacity="0.6"/>
<line x1="442.1" y1="58.7" x2="448.8" y2="74.6" stroke="#f47a30" stroke-width="1.6" stroke-linecap="round" opacity="0.5"/>
<line x1="443.3" y1="61.7" x2="448.8" y2="74.6" stroke="#fcd070" stroke-width="1.0" stroke-linecap="round" opacity="0.6"/>
<path d="M380,39.6 L444.6,59.5" fill="none" stroke="#e02a1a" stroke-width="1.4"/>
<line x1="397.0" y1="80.5" x2="399.2" y2="86.0" stroke="#f47a30" stroke-width="1.6" stroke-linecap="round" opacity="0.55"/>
<line x1="401.6" y1="81.8" x2="403.8" y2="87.3" stroke="#f47a30" stroke-width="1.6" stroke-linecap="round" opacity="0.55"/>
<line x1="406.2" y1="83.2" x2="408.4" y2="88.7" stroke="#f47a30" stroke-width="1.6" stroke-linecap="round" opacity="0.55"/>
<line x1="410.8" y1="84.5" x2="413.0" y2="90.0" stroke="#f47a30" stroke-width="1.6" stroke-linecap="round" opacity="0.55"/>
<line x1="415.4" y1="85.8" x2="417.6" y2="91.3" stroke="#f47a30" stroke-width="1.6" stroke-linecap="round" opacity="0.55"/>
<line x1="420.0" y1="87.2" x2="422.2" y2="92.7" stroke="#f47a30" stroke-width="1.6" stroke-linecap="round" opacity="0.55"/>
<line x1="424.6" y1="88.5" x2="426.8" y2="94.0" stroke="#f47a30" stroke-width="1.6" stroke-linecap="round" opacity="0.55"/>
<line x1="429.2" y1="89.8" x2="431.4" y2="95.3" stroke="#f47a30" stroke-width="1.6" stroke-linecap="round" opacity="0.55"/>
<line x1="433.8" y1="91.2" x2="436.0" y2="96.7" stroke="#f47a30" stroke-width="1.6" stroke-linecap="round" opacity="0.55"/>
<line x1="438.4" y1="92.5" x2="440.6" y2="98.0" stroke="#f47a30" stroke-width="1.6" stroke-linecap="round" opacity="0.55"/>
<line x1="443.0" y1="93.8" x2="445.2" y2="99.3" stroke="#f47a30" stroke-width="1.6" stroke-linecap="round" opacity="0.55"/>
<path d="M395,80 C410,84 426,88.5 444.6,94.5" fill="none" stroke="#e43020" stroke-width="1.6"/>
<path d="M388.5,118 Q395.5,124 396.5,130 L396.5,163" fill="none" stroke="#f39a36" stroke-width="0.8" opacity="0.75"/>
<circle cx="396.5" cy="129" r="0.9" fill="#f08a30" opacity="0.8"/>
<path d="M404.0,118 Q411.0,124 412.0,130 L412.0,163" fill="none" stroke="#f39a36" stroke-width="0.8" opacity="0.75"/>
<circle cx="412.0" cy="129" r="0.9" fill="#f08a30" opacity="0.8"/>
<path d="M417.5,118 Q424.5,124 425.5,130 L425.5,163" fill="none" stroke="#f39a36" stroke-width="0.8" opacity="0.75"/>
<circle cx="425.5" cy="129" r="0.9" fill="#f08a30" opacity="0.8"/>
<path d="M427.5,118 Q434.5,124 435.5,130 L435.5,163" fill="none" stroke="#f39a36" stroke-width="0.8" opacity="0.75"/>
<circle cx="435.5" cy="129" r="0.9" fill="#f08a30" opacity="0.8"/>
<circle cx="372.0" cy="53.0" r="0.9" fill="#f09030" opacity="0.85"/>
<circle cx="384.0" cy="57.0" r="0.9" fill="#f09030" opacity="0.85"/>
<circle cx="376.0" cy="78.0" r="0.9" fill="#f09030" opacity="0.85"/>
<circle cx="389.0" cy="81.0" r="0.9" fill="#f09030" opacity="0.85"/>
<circle cx="361.0" cy="73.0" r="0.9" fill="#f09030" opacity="0.85"/>
<circle cx="350.0" cy="96.0" r="0.9" fill="#f09030" opacity="0.85"/>
<circle cx="366.0" cy="100.0" r="0.9" fill="#f09030" opacity="0.85"/>
<circle cx="380.0" cy="108.0" r="0.9" fill="#f09030" opacity="0.85"/>
<circle cx="402.0" cy="112.0" r="0.9" fill="#f09030" opacity="0.85"/>
<circle cx="356.0" cy="62.0" r="0.9" fill="#f09030" opacity="0.85"/>
<line x1="284" y1="3.6" x2="318.0" y2="7.3" stroke="url(#hline)" stroke-width="1.6"/>
<circle cx="318.0" cy="7.3" r="1.1" fill="#e02a1a"/>
<line x1="284" y1="6.8" x2="321.0" y2="10.9" stroke="#ee6a2a" stroke-width="1.0"/>
<circle cx="321.0" cy="10.9" r="1.1" fill="#e02a1a"/>
<line x1="284" y1="10.7" x2="325.0" y2="15.2" stroke="url(#hline)" stroke-width="1.6"/>
<circle cx="325.0" cy="15.2" r="1.1" fill="#e02a1a"/>
<line x1="284" y1="13.3" x2="327.0" y2="18.0" stroke="#ee6a2a" stroke-width="1.0"/>
<circle cx="327.0" cy="18.0" r="1.1" fill="#e02a1a"/>
<line x1="284" y1="17.0" x2="330.0" y2="22.1" stroke="url(#hline)" stroke-width="1.6"/>
<circle cx="330.0" cy="22.1" r="1.1" fill="#e02a1a"/>
<line x1="284" y1="21.0" x2="332.0" y2="26.3" stroke="#ee6a2a" stroke-width="1.0"/>
<circle cx="332.0" cy="26.3" r="1.1" fill="#e02a1a"/>
<line x1="284" y1="25.8" x2="335.0" y2="31.4" stroke="url(#hline)" stroke-width="1.5"/>
<circle cx="335.0" cy="31.4" r="1.1" fill="#e02a1a"/>
<line x1="284" y1="29.8" x2="337.0" y2="35.6" stroke="#f08a34" stroke-width="1.0"/>
<circle cx="337.0" cy="35.6" r="1.1" fill="#e02a1a"/>
<line x1="284" y1="36.2" x2="313.0" y2="39.4" stroke="#f4a040" stroke-width="1.2"/>
<line x1="284" y1="60.5" x2="320.0" y2="64.5" stroke="#f08a34" stroke-width="1.4"/>
<circle cx="345.8" cy="6.0" r="0.9" fill="#f08a30"/>
<circle cx="346.2" cy="12.0" r="0.9" fill="#f08a30"/>
<circle cx="346.6" cy="18.0" r="0.9" fill="#f08a30"/>
<circle cx="347.0" cy="24.0" r="0.9" fill="#f08a30"/>
<circle cx="347.4" cy="30.0" r="0.9" fill="#f08a30"/>
<circle cx="347.8" cy="36.0" r="0.9" fill="#f08a30"/>
<circle cx="348.2" cy="42.0" r="0.9" fill="#f08a30"/>
</g>
<g fill="#fff" fill-opacity="0.88" stroke="#666" stroke-width="0.6"><circle cx="296" cy="21.7" r="6.6"/><circle cx="321.5" cy="21.7" r="6.6"/><circle cx="395.7" cy="36.3" r="6.6"/><circle cx="338.8" cy="105.9" r="6.6"/></g>
<g class="serif" font-size="7.4" font-weight="bold" fill="#333" text-anchor="middle"><text x="296" y="24.2">IV</text><text x="321.5" y="24.2">III</text><text x="395.7" y="38.8">II</text><text x="338.8" y="108.4">I</text></g>
<line x1="326.3" y1="70.3" x2="370.8" y2="127.3" stroke="#111" stroke-width="1.1" stroke-dasharray="0.9,1.3"/>
<line x1="285.3" y1="161" x2="297.5" y2="149.8" stroke="#fff" stroke-width="0.7"/>
<path d="M300.2,147.3 L294.8,149.2 L298.2,152.6 Z" fill="#fff"/>
<line x1="443.8" y1="4" x2="431.5" y2="15.3" stroke="#111" stroke-width="0.7"/>
<path d="M429.3,17.6 L434.6,15.6 L431.3,12.3 Z" fill="#111"/>
<rect x="284" y="2" width="160.6" height="160.7" fill="none" stroke="#555" stroke-width="0.6"/>
<g font-size="6.4" fill="#222" text-anchor="end">
  <text x="281.5" y="5.2">4.6</text>
  <text x="281.5" y="36.6">4.4</text>
  <text x="281.5" y="69">4.2</text>
  <text x="281.5" y="101.4">4.0</text>
  <text x="281.5" y="133.8">3.8</text>
  <text x="281.5" y="165">3.6</text>
</g>
<g font-size="6.4" fill="#222" text-anchor="middle">
  <text x="286" y="170.6">3.4</text>
  <text x="316.6" y="170.6">3.6</text>
  <text x="348.8" y="170.6">3.8</text>
  <text x="380.8" y="170.6">4</text>
  <text x="408.3" y="170.6">4.2</text>
  <text x="441" y="170.6">4.4</text>
</g>
<text x="353.6" y="179.8" font-size="6.8" fill="#222">V<tspan font-size="4" dy="1.2">GL</tspan><tspan dy="-1.2"> (V)</tspan></text>
<text transform="translate(267.8,94.2) rotate(-90)" font-size="6.8" fill="#222">V<tspan font-size="4" dy="1.2">GR</tspan><tspan dy="-1.2"> (V)</tspan></text>

<text x="0.4" y="196.6" font-size="7">(f)</text>
<defs><clipPath id="aboveEf"><rect x="0" y="180" width="448" height="65.1"/></clipPath><clipPath id="belowEf"><rect x="0" y="245.1" width="448" height="10"/></clipPath></defs>
<text x="0.8" y="247.4" font-size="6.6" fill="#222">E<tspan font-size="3.8" dy="1">F</tspan></text>
<circle cx="19.1" cy="197.1" r="7.1" fill="#fff" stroke="#444" stroke-width="0.6"/>
<text class="serif" x="19.1" y="199.6" font-size="7.4" text-anchor="middle" fill="#333">I</text>
<rect x="49.9" y="201.5" width="14.5" height="4.4" rx="0.6" fill="#e2e2e2" stroke="#888" stroke-width="0.5"/>
<rect x="34.4" y="213.3" width="14.3" height="4.0" rx="0.6" fill="#8a8a8a" stroke="#555" stroke-width="0.5"/>
<rect x="65.3" y="213.3" width="14.3" height="4.0" rx="0.6" fill="#8a8a8a" stroke="#333" stroke-width="0.5"/>
<text x="41.6" y="211.8" font-size="6.4" text-anchor="middle" fill="#222">GL</text>
<text x="72.4" y="211.8" font-size="6.4" text-anchor="middle" fill="#222">GR</text>
<clipPath id="pc57_11"><rect x="11.00" y="180" width="32.50" height="65.1"/></clipPath>
<path d="M11.00,227.30 C13.33,227.30 22.00,227.10 25.00,227.30 C28.00,227.50 27.67,227.55 29.00,228.50 C30.33,229.45 31.67,231.08 33.00,233.00 C34.33,234.92 35.75,238.03 37.00,240.00 C38.25,241.97 39.42,243.75 40.50,244.80 C41.58,245.85 42.42,246.23 43.50,246.30 C44.58,246.37 45.75,245.88 47.00,245.20 C48.25,244.52 49.33,242.92 51.00,242.20 C52.67,241.48 55.00,240.90 57.00,240.90 C59.00,240.90 61.33,241.48 63.00,242.20 C64.67,242.92 65.75,244.52 67.00,245.20 C68.25,245.88 69.42,246.37 70.50,246.30 C71.58,246.23 72.42,245.85 73.50,244.80 C74.58,243.75 75.75,241.97 77.00,240.00 C78.25,238.03 79.67,234.92 81.00,233.00 C82.33,231.08 83.67,229.45 85.00,228.50 C86.33,227.55 86.22,227.50 89.00,227.30 C91.78,227.10 99.58,227.30 101.70,227.30 L101.70,246 L11.00,246 Z" fill="#fbdab2" clip-path="url(#pc57_11)"/>
<clipPath id="pc57_70"><rect x="70.50" y="180" width="31.20" height="65.1"/></clipPath>
<path d="M11.00,227.30 C13.33,227.30 22.00,227.10 25.00,227.30 C28.00,227.50 27.67,227.55 29.00,228.50 C30.33,229.45 31.67,231.08 33.00,233.00 C34.33,234.92 35.75,238.03 37.00,240.00 C38.25,241.97 39.42,243.75 40.50,244.80 C41.58,245.85 42.42,246.23 43.50,246.30 C44.58,246.37 45.75,245.88 47.00,245.20 C48.25,244.52 49.33,242.92 51.00,242.20 C52.67,241.48 55.00,240.90 57.00,240.90 C59.00,240.90 61.33,241.48 63.00,242.20 C64.67,242.92 65.75,244.52 67.00,245.20 C68.25,245.88 69.42,246.37 70.50,246.30 C71.58,246.23 72.42,245.85 73.50,244.80 C74.58,243.75 75.75,241.97 77.00,240.00 C78.25,238.03 79.67,234.92 81.00,233.00 C82.33,231.08 83.67,229.45 85.00,228.50 C86.33,227.55 86.22,227.50 89.00,227.30 C91.78,227.10 99.58,227.30 101.70,227.30 L101.70,246 L11.00,246 Z" fill="#fbdab2" clip-path="url(#pc57_70)"/>
<clipPath id="rc57_47"><rect x="47.00" y="180" width="20.00" height="65.1"/></clipPath>
<path d="M11.00,227.30 C13.33,227.30 22.00,227.10 25.00,227.30 C28.00,227.50 27.67,227.55 29.00,228.50 C30.33,229.45 31.67,231.08 33.00,233.00 C34.33,234.92 35.75,238.03 37.00,240.00 C38.25,241.97 39.42,243.75 40.50,244.80 C41.58,245.85 42.42,246.23 43.50,246.30 C44.58,246.37 45.75,245.88 47.00,245.20 C48.25,244.52 49.33,242.92 51.00,242.20 C52.67,241.48 55.00,240.90 57.00,240.90 C59.00,240.90 61.33,241.48 63.00,242.20 C64.67,242.92 65.75,244.52 67.00,245.20 C68.25,245.88 69.42,246.37 70.50,246.30 C71.58,246.23 72.42,245.85 73.50,244.80 C74.58,243.75 75.75,241.97 77.00,240.00 C78.25,238.03 79.67,234.92 81.00,233.00 C82.33,231.08 83.67,229.45 85.00,228.50 C86.33,227.55 86.22,227.50 89.00,227.30 C91.78,227.10 99.58,227.30 101.70,227.30 L101.70,246 L11.00,246 Z" fill="#e8262a" clip-path="url(#rc57_47)"/>
<line x1="11.0" y1="245.1" x2="101.7" y2="245.1" stroke="#aaa" stroke-width="0.6" stroke-dasharray="1.6,0.8"/>
<path d="M11.00,218.60 C13.67,218.60 23.67,218.37 27.00,218.60 C30.33,218.83 29.67,218.85 31.00,220.00 C32.33,221.15 33.75,223.50 35.00,225.50 C36.25,227.50 37.25,230.28 38.50,232.00 C39.75,233.72 41.08,235.30 42.50,235.80 C43.92,236.30 45.42,235.53 47.00,235.00 C48.58,234.47 50.33,233.13 52.00,232.60 C53.67,232.07 55.33,231.80 57.00,231.80 C58.67,231.80 60.33,232.07 62.00,232.60 C63.67,233.13 65.42,234.47 67.00,235.00 C68.58,235.53 70.08,236.30 71.50,235.80 C72.92,235.30 74.25,233.72 75.50,232.00 C76.75,230.28 77.75,227.50 79.00,225.50 C80.25,223.50 81.67,221.15 83.00,220.00 C84.33,218.85 83.88,218.83 87.00,218.60 C90.12,218.37 99.25,218.60 101.70,218.60" fill="none" stroke="#555" stroke-width="0.75"/>
<path d="M11.00,227.30 C13.33,227.30 22.00,227.10 25.00,227.30 C28.00,227.50 27.67,227.55 29.00,228.50 C30.33,229.45 31.67,231.08 33.00,233.00 C34.33,234.92 35.75,238.03 37.00,240.00 C38.25,241.97 39.42,243.75 40.50,244.80 C41.58,245.85 42.42,246.23 43.50,246.30 C44.58,246.37 45.75,245.88 47.00,245.20 C48.25,244.52 49.33,242.92 51.00,242.20 C52.67,241.48 55.00,240.90 57.00,240.90 C59.00,240.90 61.33,241.48 63.00,242.20 C64.67,242.92 65.75,244.52 67.00,245.20 C68.25,245.88 69.42,246.37 70.50,246.30 C71.58,246.23 72.42,245.85 73.50,244.80 C74.58,243.75 75.75,241.97 77.00,240.00 C78.25,238.03 79.67,234.92 81.00,233.00 C82.33,231.08 83.67,229.45 85.00,228.50 C86.33,227.55 86.22,227.50 89.00,227.30 C91.78,227.10 99.58,227.30 101.70,227.30" fill="none" stroke="#555" stroke-width="0.75"/>
<text x="20.2" y="240.3" font-size="6.8" font-style="italic" text-anchor="middle" fill="#222">p</text>
<text x="91.9" y="240.3" font-size="6.8" font-style="italic" text-anchor="middle" fill="#222">p</text>
<text x="111.3" y="247.4" font-size="6.6" fill="#222">E<tspan font-size="3.8" dy="1">F</tspan></text>
<circle cx="128.6" cy="197.1" r="7.1" fill="#fff" stroke="#444" stroke-width="0.6"/>
<text class="serif" x="128.6" y="199.6" font-size="7.4" text-anchor="middle" fill="#333">II</text>
<rect x="160.2" y="201.5" width="14.5" height="4.4" rx="0.6" fill="#e2e2e2" stroke="#888" stroke-width="0.5"/>
<rect x="144.7" y="213.3" width="14.3" height="4.0" rx="0.6" fill="#777" stroke="#555" stroke-width="0.5"/>
<rect x="175.6" y="213.3" width="14.3" height="4.0" rx="0.6" fill="#777" stroke="#333" stroke-width="0.5"/>
<text x="151.9" y="211.8" font-size="6.4" text-anchor="middle" fill="#222">GL</text>
<text x="182.7" y="211.8" font-size="6.4" text-anchor="middle" fill="#222">GR</text>
<clipPath id="pc167_122"><rect x="122.00" y="180" width="28.00" height="65.1"/></clipPath>
<path d="M122.00,227.30 C124.00,227.30 131.42,227.02 134.00,227.30 C136.58,227.58 136.42,227.88 137.50,229.00 C138.58,230.12 139.50,231.83 140.50,234.00 C141.50,236.17 142.67,239.50 143.50,242.00 C144.33,244.50 144.75,246.33 145.50,249.00 C146.25,251.67 146.92,255.67 148.00,258.00 C149.08,260.33 150.50,263.00 152.00,263.00 C153.50,263.00 155.42,260.08 157.00,258.00 C158.58,255.92 159.92,252.28 161.50,250.50 C163.08,248.72 164.83,247.30 166.50,247.30 C168.17,247.30 169.92,248.72 171.50,250.50 C173.08,252.28 174.42,255.92 176.00,258.00 C177.58,260.08 179.33,263.00 181.00,263.00 C182.67,263.00 184.75,260.33 186.00,258.00 C187.25,255.67 187.75,251.67 188.50,249.00 C189.25,246.33 189.67,244.50 190.50,242.00 C191.33,239.50 192.50,236.17 193.50,234.00 C194.50,231.83 195.33,230.12 196.50,229.00 C197.67,227.88 198.02,227.58 200.50,227.30 C202.98,227.02 209.58,227.30 211.40,227.30 L211.40,246 L122.00,246 Z" fill="#fbdab2" clip-path="url(#pc167_122)"/>
<clipPath id="pc167_185"><rect x="185.00" y="180" width="26.40" height="65.1"/></clipPath>
<path d="M122.00,227.30 C124.00,227.30 131.42,227.02 134.00,227.30 C136.58,227.58 136.42,227.88 137.50,229.00 C138.58,230.12 139.50,231.83 140.50,234.00 C141.50,236.17 142.67,239.50 143.50,242.00 C144.33,244.50 144.75,246.33 145.50,249.00 C146.25,251.67 146.92,255.67 148.00,258.00 C149.08,260.33 150.50,263.00 152.00,263.00 C153.50,263.00 155.42,260.08 157.00,258.00 C158.58,255.92 159.92,252.28 161.50,250.50 C163.08,248.72 164.83,247.30 166.50,247.30 C168.17,247.30 169.92,248.72 171.50,250.50 C173.08,252.28 174.42,255.92 176.00,258.00 C177.58,260.08 179.33,263.00 181.00,263.00 C182.67,263.00 184.75,260.33 186.00,258.00 C187.25,255.67 187.75,251.67 188.50,249.00 C189.25,246.33 189.67,244.50 190.50,242.00 C191.33,239.50 192.50,236.17 193.50,234.00 C194.50,231.83 195.33,230.12 196.50,229.00 C197.67,227.88 198.02,227.58 200.50,227.30 C202.98,227.02 209.58,227.30 211.40,227.30 L211.40,246 L122.00,246 Z" fill="#fbdab2" clip-path="url(#pc167_185)"/>
<clipPath id="bc167_140"><rect x="140.00" y="245.0" width="26.50" height="10"/></clipPath>
<path d="M122.00,218.60 C124.33,218.63 133.08,218.48 136.00,218.80 C138.92,219.12 138.42,219.30 139.50,220.50 C140.58,221.70 141.30,223.25 142.50,226.00 C143.70,228.75 145.48,233.92 146.70,237.00 C147.92,240.08 148.88,242.73 149.80,244.50 C150.72,246.27 151.33,247.05 152.20,247.60 C153.07,248.15 154.10,248.13 155.00,247.80 C155.90,247.47 156.68,246.73 157.60,245.60 C158.52,244.47 159.52,242.23 160.50,241.00 C161.48,239.77 162.50,238.77 163.50,238.20 C164.50,237.63 165.50,237.60 166.50,237.60 C167.50,237.60 168.25,237.63 169.50,238.20 C170.75,238.77 172.78,239.77 174.00,241.00 C175.22,242.23 175.90,244.47 176.80,245.60 C177.70,246.73 178.50,247.47 179.40,247.80 C180.30,248.13 181.33,248.15 182.20,247.60 C183.07,247.05 183.88,246.27 184.60,244.50 C185.32,242.73 185.52,240.08 186.50,237.00 C187.48,233.92 189.32,228.68 190.50,226.00 C191.68,223.32 192.52,222.10 193.60,220.90 C194.68,219.70 194.03,219.18 197.00,218.80 C199.97,218.42 209.00,218.63 211.40,218.60 L211.40,244 L122.00,244 Z" fill="#1f6fd0" clip-path="url(#bc167_140)"/>
<clipPath id="bc167_166"><rect x="166.50" y="245.0" width="28.50" height="10"/></clipPath>
<path d="M122.00,218.60 C124.33,218.63 133.08,218.48 136.00,218.80 C138.92,219.12 138.42,219.30 139.50,220.50 C140.58,221.70 141.30,223.25 142.50,226.00 C143.70,228.75 145.48,233.92 146.70,237.00 C147.92,240.08 148.88,242.73 149.80,244.50 C150.72,246.27 151.33,247.05 152.20,247.60 C153.07,248.15 154.10,248.13 155.00,247.80 C155.90,247.47 156.68,246.73 157.60,245.60 C158.52,244.47 159.52,242.23 160.50,241.00 C161.48,239.77 162.50,238.77 163.50,238.20 C164.50,237.63 165.50,237.60 166.50,237.60 C167.50,237.60 168.25,237.63 169.50,238.20 C170.75,238.77 172.78,239.77 174.00,241.00 C175.22,242.23 175.90,244.47 176.80,245.60 C177.70,246.73 178.50,247.47 179.40,247.80 C180.30,248.13 181.33,248.15 182.20,247.60 C183.07,247.05 183.88,246.27 184.60,244.50 C185.32,242.73 185.52,240.08 186.50,237.00 C187.48,233.92 189.32,228.68 190.50,226.00 C191.68,223.32 192.52,222.10 193.60,220.90 C194.68,219.70 194.03,219.18 197.00,218.80 C199.97,218.42 209.00,218.63 211.40,218.60 L211.40,244 L122.00,244 Z" fill="#1f6fd0" clip-path="url(#bc167_166)"/>
<line x1="122.0" y1="245.1" x2="211.4" y2="245.1" stroke="#aaa" stroke-width="0.6" stroke-dasharray="1.6,0.8"/>
<path d="M122.00,218.60 C124.33,218.63 133.08,218.48 136.00,218.80 C138.92,219.12 138.42,219.30 139.50,220.50 C140.58,221.70 141.30,223.25 142.50,226.00 C143.70,228.75 145.48,233.92 146.70,237.00 C147.92,240.08 148.88,242.73 149.80,244.50 C150.72,246.27 151.33,247.05 152.20,247.60 C153.07,248.15 154.10,248.13 155.00,247.80 C155.90,247.47 156.68,246.73 157.60,245.60 C158.52,244.47 159.52,242.23 160.50,241.00 C161.48,239.77 162.50,238.77 163.50,238.20 C164.50,237.63 165.50,237.60 166.50,237.60 C167.50,237.60 168.25,237.63 169.50,238.20 C170.75,238.77 172.78,239.77 174.00,241.00 C175.22,242.23 175.90,244.47 176.80,245.60 C177.70,246.73 178.50,247.47 179.40,247.80 C180.30,248.13 181.33,248.15 182.20,247.60 C183.07,247.05 183.88,246.27 184.60,244.50 C185.32,242.73 185.52,240.08 186.50,237.00 C187.48,233.92 189.32,228.68 190.50,226.00 C191.68,223.32 192.52,222.10 193.60,220.90 C194.68,219.70 194.03,219.18 197.00,218.80 C199.97,218.42 209.00,218.63 211.40,218.60" fill="none" stroke="#555" stroke-width="0.75"/>
<path d="M122.00,227.30 C124.00,227.30 131.42,227.02 134.00,227.30 C136.58,227.58 136.42,227.88 137.50,229.00 C138.58,230.12 139.50,231.83 140.50,234.00 C141.50,236.17 142.67,239.50 143.50,242.00 C144.33,244.50 144.75,246.33 145.50,249.00 C146.25,251.67 146.92,255.67 148.00,258.00 C149.08,260.33 150.50,263.00 152.00,263.00 C153.50,263.00 155.42,260.08 157.00,258.00 C158.58,255.92 159.92,252.28 161.50,250.50 C163.08,248.72 164.83,247.30 166.50,247.30 C168.17,247.30 169.92,248.72 171.50,250.50 C173.08,252.28 174.42,255.92 176.00,258.00 C177.58,260.08 179.33,263.00 181.00,263.00 C182.67,263.00 184.75,260.33 186.00,258.00 C187.25,255.67 187.75,251.67 188.50,249.00 C189.25,246.33 189.67,244.50 190.50,242.00 C191.33,239.50 192.50,236.17 193.50,234.00 C194.50,231.83 195.33,230.12 196.50,229.00 C197.67,227.88 198.02,227.58 200.50,227.30 C202.98,227.02 209.58,227.30 211.40,227.30" fill="none" stroke="#555" stroke-width="0.75"/>
<text x="131.2" y="240.3" font-size="6.8" font-style="italic" text-anchor="middle" fill="#222">p</text>
<text x="201.6" y="240.3" font-size="6.8" font-style="italic" text-anchor="middle" fill="#222">p</text>
<text x="153.5" y="243.0" font-size="6.6" text-anchor="middle" fill="#111">L</text>
<text x="179.3" y="243.0" font-size="6.6" text-anchor="middle" fill="#111">R</text>
<text x="229.4" y="247.4" font-size="6.6" fill="#222">E<tspan font-size="3.8" dy="1">F</tspan></text>
<circle cx="247.5" cy="197.3" r="7.1" fill="#fff" stroke="#444" stroke-width="0.6"/>
<text class="serif" x="247.5" y="199.8" font-size="7.4" text-anchor="middle" fill="#333">III</text>
<rect x="276.5" y="201.5" width="14.5" height="4.4" rx="0.6" fill="#e2e2e2" stroke="#888" stroke-width="0.5"/>
<rect x="261.0" y="213.3" width="14.3" height="4.0" rx="0.6" fill="#8e8e8e" stroke="#555" stroke-width="0.5"/>
<rect x="291.9" y="213.3" width="14.3" height="4.0" rx="0.6" fill="#333" stroke="#333" stroke-width="0.5"/>
<text x="268.2" y="211.8" font-size="6.4" text-anchor="middle" fill="#222">GL</text>
<text x="299.0" y="211.8" font-size="6.4" text-anchor="middle" fill="#222">GR</text>
<clipPath id="pc283_239"><rect x="239.40" y="180" width="26.60" height="65.1"/></clipPath>
<path d="M239.40,228.30 C241.17,228.30 247.57,228.10 250.00,228.30 C252.43,228.50 252.67,228.55 254.00,229.50 C255.33,230.45 256.67,232.08 258.00,234.00 C259.33,235.92 260.92,239.08 262.00,241.00 C263.08,242.92 263.67,244.25 264.50,245.50 C265.33,246.75 266.03,247.83 267.00,248.50 C267.97,249.17 269.13,249.58 270.30,249.50 C271.47,249.42 272.72,249.08 274.00,248.00 C275.28,246.92 276.33,244.27 278.00,243.00 C279.67,241.73 282.33,240.57 284.00,240.40 C285.67,240.23 286.97,241.23 288.00,242.00 C289.03,242.77 289.30,243.33 290.20,245.00 C291.10,246.67 292.43,249.50 293.40,252.00 C294.37,254.50 294.90,258.17 296.00,260.00 C297.10,261.83 298.67,263.00 300.00,263.00 C301.33,263.00 303.05,261.83 304.00,260.00 C304.95,258.17 304.97,255.33 305.70,252.00 C306.43,248.67 307.32,243.67 308.40,240.00 C309.48,236.33 310.87,232.07 312.20,230.00 C313.53,227.93 315.10,228.05 316.40,227.60 C317.70,227.15 318.07,227.35 320.00,227.30 C321.93,227.25 326.67,227.30 328.00,227.30 L328.00,246 L239.40,246 Z" fill="#fbdab2" clip-path="url(#pc283_239)"/>
<clipPath id="pc283_306"><rect x="306.00" y="180" width="22.00" height="65.1"/></clipPath>
<path d="M239.40,228.30 C241.17,228.30 247.57,228.10 250.00,228.30 C252.43,228.50 252.67,228.55 254.00,229.50 C255.33,230.45 256.67,232.08 258.00,234.00 C259.33,235.92 260.92,239.08 262.00,241.00 C263.08,242.92 263.67,244.25 264.50,245.50 C265.33,246.75 266.03,247.83 267.00,248.50 C267.97,249.17 269.13,249.58 270.30,249.50 C271.47,249.42 272.72,249.08 274.00,248.00 C275.28,246.92 276.33,244.27 278.00,243.00 C279.67,241.73 282.33,240.57 284.00,240.40 C285.67,240.23 286.97,241.23 288.00,242.00 C289.03,242.77 289.30,243.33 290.20,245.00 C291.10,246.67 292.43,249.50 293.40,252.00 C294.37,254.50 294.90,258.17 296.00,260.00 C297.10,261.83 298.67,263.00 300.00,263.00 C301.33,263.00 303.05,261.83 304.00,260.00 C304.95,258.17 304.97,255.33 305.70,252.00 C306.43,248.67 307.32,243.67 308.40,240.00 C309.48,236.33 310.87,232.07 312.20,230.00 C313.53,227.93 315.10,228.05 316.40,227.60 C317.70,227.15 318.07,227.35 320.00,227.30 C321.93,227.25 326.67,227.30 328.00,227.30 L328.00,246 L239.40,246 Z" fill="#fbdab2" clip-path="url(#pc283_306)"/>
<clipPath id="rc283_276"><rect x="276.00" y="180" width="16.00" height="65.1"/></clipPath>
<path d="M239.40,228.30 C241.17,228.30 247.57,228.10 250.00,228.30 C252.43,228.50 252.67,228.55 254.00,229.50 C255.33,230.45 256.67,232.08 258.00,234.00 C259.33,235.92 260.92,239.08 262.00,241.00 C263.08,242.92 263.67,244.25 264.50,245.50 C265.33,246.75 266.03,247.83 267.00,248.50 C267.97,249.17 269.13,249.58 270.30,249.50 C271.47,249.42 272.72,249.08 274.00,248.00 C275.28,246.92 276.33,244.27 278.00,243.00 C279.67,241.73 282.33,240.57 284.00,240.40 C285.67,240.23 286.97,241.23 288.00,242.00 C289.03,242.77 289.30,243.33 290.20,245.00 C291.10,246.67 292.43,249.50 293.40,252.00 C294.37,254.50 294.90,258.17 296.00,260.00 C297.10,261.83 298.67,263.00 300.00,263.00 C301.33,263.00 303.05,261.83 304.00,260.00 C304.95,258.17 304.97,255.33 305.70,252.00 C306.43,248.67 307.32,243.67 308.40,240.00 C309.48,236.33 310.87,232.07 312.20,230.00 C313.53,227.93 315.10,228.05 316.40,227.60 C317.70,227.15 318.07,227.35 320.00,227.30 C321.93,227.25 326.67,227.30 328.00,227.30 L328.00,246 L239.40,246 Z" fill="#e8262a" clip-path="url(#rc283_276)"/>
<clipPath id="bc283_292"><rect x="292.00" y="245.0" width="14.00" height="10"/></clipPath>
<path d="M239.40,218.00 C241.83,218.03 250.90,217.87 254.00,218.20 C257.10,218.53 256.75,218.70 258.00,220.00 C259.25,221.30 260.25,223.50 261.50,226.00 C262.75,228.50 264.03,232.53 265.50,235.00 C266.97,237.47 268.72,240.05 270.30,240.80 C271.88,241.55 273.38,240.43 275.00,239.50 C276.62,238.57 278.45,236.18 280.00,235.20 C281.55,234.22 282.97,233.63 284.30,233.60 C285.63,233.57 286.93,234.28 288.00,235.00 C289.07,235.72 289.72,236.35 290.70,237.90 C291.68,239.45 292.98,242.68 293.90,244.30 C294.82,245.92 295.30,246.88 296.20,247.60 C297.10,248.32 298.27,248.60 299.30,248.60 C300.33,248.60 301.55,248.32 302.40,247.60 C303.25,246.88 303.67,246.28 304.40,244.30 C305.13,242.32 305.87,238.75 306.80,235.70 C307.73,232.65 308.88,228.45 310.00,226.00 C311.12,223.55 312.07,222.13 313.50,221.00 C314.93,219.87 316.18,219.60 318.60,219.20 C321.02,218.80 326.43,218.70 328.00,218.60 L328.00,244 L239.40,244 Z" fill="#1f6fd0" clip-path="url(#bc283_292)"/>
<line x1="239.4" y1="245.1" x2="328.0" y2="245.1" stroke="#aaa" stroke-width="0.6" stroke-dasharray="1.6,0.8"/>
<path d="M239.40,218.00 C241.83,218.03 250.90,217.87 254.00,218.20 C257.10,218.53 256.75,218.70 258.00,220.00 C259.25,221.30 260.25,223.50 261.50,226.00 C262.75,228.50 264.03,232.53 265.50,235.00 C266.97,237.47 268.72,240.05 270.30,240.80 C271.88,241.55 273.38,240.43 275.00,239.50 C276.62,238.57 278.45,236.18 280.00,235.20 C281.55,234.22 282.97,233.63 284.30,233.60 C285.63,233.57 286.93,234.28 288.00,235.00 C289.07,235.72 289.72,236.35 290.70,237.90 C291.68,239.45 292.98,242.68 293.90,244.30 C294.82,245.92 295.30,246.88 296.20,247.60 C297.10,248.32 298.27,248.60 299.30,248.60 C300.33,248.60 301.55,248.32 302.40,247.60 C303.25,246.88 303.67,246.28 304.40,244.30 C305.13,242.32 305.87,238.75 306.80,235.70 C307.73,232.65 308.88,228.45 310.00,226.00 C311.12,223.55 312.07,222.13 313.50,221.00 C314.93,219.87 316.18,219.60 318.60,219.20 C321.02,218.80 326.43,218.70 328.00,218.60" fill="none" stroke="#555" stroke-width="0.75"/>
<path d="M239.40,228.30 C241.17,228.30 247.57,228.10 250.00,228.30 C252.43,228.50 252.67,228.55 254.00,229.50 C255.33,230.45 256.67,232.08 258.00,234.00 C259.33,235.92 260.92,239.08 262.00,241.00 C263.08,242.92 263.67,244.25 264.50,245.50 C265.33,246.75 266.03,247.83 267.00,248.50 C267.97,249.17 269.13,249.58 270.30,249.50 C271.47,249.42 272.72,249.08 274.00,248.00 C275.28,246.92 276.33,244.27 278.00,243.00 C279.67,241.73 282.33,240.57 284.00,240.40 C285.67,240.23 286.97,241.23 288.00,242.00 C289.03,242.77 289.30,243.33 290.20,245.00 C291.10,246.67 292.43,249.50 293.40,252.00 C294.37,254.50 294.90,258.17 296.00,260.00 C297.10,261.83 298.67,263.00 300.00,263.00 C301.33,263.00 303.05,261.83 304.00,260.00 C304.95,258.17 304.97,255.33 305.70,252.00 C306.43,248.67 307.32,243.67 308.40,240.00 C309.48,236.33 310.87,232.07 312.20,230.00 C313.53,227.93 315.10,228.05 316.40,227.60 C317.70,227.15 318.07,227.35 320.00,227.30 C321.93,227.25 326.67,227.30 328.00,227.30" fill="none" stroke="#555" stroke-width="0.75"/>
<text x="248.6" y="240.3" font-size="6.8" font-style="italic" text-anchor="middle" fill="#222">p</text>
<text x="318.2" y="240.3" font-size="6.8" font-style="italic" text-anchor="middle" fill="#222">p</text>
<text x="342.8" y="247.4" font-size="6.6" fill="#222">E<tspan font-size="3.8" dy="1">F</tspan></text>
<circle cx="362.0" cy="197.4" r="7.1" fill="#fff" stroke="#444" stroke-width="0.6"/>
<text class="serif" x="362.0" y="199.9" font-size="7.4" text-anchor="middle" fill="#333">IV</text>
<rect x="392.6" y="201.5" width="14.5" height="4.4" rx="0.6" fill="#e2e2e2" stroke="#888" stroke-width="0.5"/>
<rect x="377.1" y="213.3" width="14.3" height="4.0" rx="0.6" fill="#dcdcdc" stroke="#666" stroke-width="0.5"/>
<rect x="408.0" y="213.3" width="14.3" height="4.0" rx="0.6" fill="#1a1a1a" stroke="#111" stroke-width="0.5"/>
<text x="384.3" y="211.8" font-size="6.4" text-anchor="middle" fill="#222">GL</text>
<text x="415.1" y="211.8" font-size="6.4" text-anchor="middle" fill="#222">GR</text>
<clipPath id="pc399_354"><rect x="354.50" y="180" width="51.50" height="65.1"/></clipPath>
<path d="M354.50,228.30 C356.42,228.30 363.42,228.10 366.00,228.30 C368.58,228.50 368.67,228.63 370.00,229.50 C371.33,230.37 372.67,231.92 374.00,233.50 C375.33,235.08 376.53,237.38 378.00,239.00 C379.47,240.62 381.13,242.43 382.80,243.20 C384.47,243.97 386.13,243.62 388.00,243.60 C389.87,243.58 392.17,243.25 394.00,243.10 C395.83,242.95 397.58,242.63 399.00,242.70 C400.42,242.77 401.38,243.08 402.50,243.50 C403.62,243.92 404.78,244.12 405.70,245.20 C406.62,246.28 407.12,247.87 408.00,250.00 C408.88,252.13 409.67,256.00 411.00,258.00 C412.33,260.00 414.33,262.00 416.00,262.00 C417.67,262.00 419.67,260.00 421.00,258.00 C422.33,256.00 423.13,252.17 424.00,250.00 C424.87,247.83 425.20,247.33 426.20,245.00 C427.20,242.67 428.60,238.58 430.00,236.00 C431.40,233.42 433.27,230.77 434.60,229.50 C435.93,228.23 436.30,228.60 438.00,228.40 C439.70,228.20 443.67,228.32 444.80,228.30 L444.80,246 L354.50,246 Z" fill="#fbdab2" clip-path="url(#pc399_354)"/>
<clipPath id="pc399_425"><rect x="425.50" y="180" width="19.30" height="65.1"/></clipPath>
<path d="M354.50,228.30 C356.42,228.30 363.42,228.10 366.00,228.30 C368.58,228.50 368.67,228.63 370.00,229.50 C371.33,230.37 372.67,231.92 374.00,233.50 C375.33,235.08 376.53,237.38 378.00,239.00 C379.47,240.62 381.13,242.43 382.80,243.20 C384.47,243.97 386.13,243.62 388.00,243.60 C389.87,243.58 392.17,243.25 394.00,243.10 C395.83,242.95 397.58,242.63 399.00,242.70 C400.42,242.77 401.38,243.08 402.50,243.50 C403.62,243.92 404.78,244.12 405.70,245.20 C406.62,246.28 407.12,247.87 408.00,250.00 C408.88,252.13 409.67,256.00 411.00,258.00 C412.33,260.00 414.33,262.00 416.00,262.00 C417.67,262.00 419.67,260.00 421.00,258.00 C422.33,256.00 423.13,252.17 424.00,250.00 C424.87,247.83 425.20,247.33 426.20,245.00 C427.20,242.67 428.60,238.58 430.00,236.00 C431.40,233.42 433.27,230.77 434.60,229.50 C435.93,228.23 436.30,228.60 438.00,228.40 C439.70,228.20 443.67,228.32 444.80,228.30 L444.80,246 L354.50,246 Z" fill="#fbdab2" clip-path="url(#pc399_425)"/>
<clipPath id="bc399_405"><rect x="405.00" y="245.0" width="20.00" height="10"/></clipPath>
<path d="M354.50,218.00 C356.75,218.03 365.17,217.87 368.00,218.20 C370.83,218.53 370.25,218.87 371.50,220.00 C372.75,221.13 374.25,223.33 375.50,225.00 C376.75,226.67 377.78,228.63 379.00,230.00 C380.22,231.37 381.30,232.60 382.80,233.20 C384.30,233.80 386.13,233.63 388.00,233.60 C389.87,233.57 392.17,233.17 394.00,233.00 C395.83,232.83 397.50,232.43 399.00,232.60 C400.50,232.77 401.67,232.93 403.00,234.00 C404.33,235.07 405.75,237.00 407.00,239.00 C408.25,241.00 409.50,244.43 410.50,246.00 C411.50,247.57 412.00,248.00 413.00,248.40 C414.00,248.80 415.42,248.80 416.50,248.40 C417.58,248.00 418.50,247.73 419.50,246.00 C420.50,244.27 421.50,241.00 422.50,238.00 C423.50,235.00 424.50,230.67 425.50,228.00 C426.50,225.33 427.08,223.50 428.50,222.00 C429.92,220.50 431.28,219.72 434.00,219.00 C436.72,218.28 443.00,217.92 444.80,217.70 L444.80,244 L354.50,244 Z" fill="#1f6fd0" clip-path="url(#bc399_405)"/>
<line x1="354.5" y1="245.1" x2="444.8" y2="245.1" stroke="#aaa" stroke-width="0.6" stroke-dasharray="1.6,0.8"/>
<path d="M354.50,218.00 C356.75,218.03 365.17,217.87 368.00,218.20 C370.83,218.53 370.25,218.87 371.50,220.00 C372.75,221.13 374.25,223.33 375.50,225.00 C376.75,226.67 377.78,228.63 379.00,230.00 C380.22,231.37 381.30,232.60 382.80,233.20 C384.30,233.80 386.13,233.63 388.00,233.60 C389.87,233.57 392.17,233.17 394.00,233.00 C395.83,232.83 397.50,232.43 399.00,232.60 C400.50,232.77 401.67,232.93 403.00,234.00 C404.33,235.07 405.75,237.00 407.00,239.00 C408.25,241.00 409.50,244.43 410.50,246.00 C411.50,247.57 412.00,248.00 413.00,248.40 C414.00,248.80 415.42,248.80 416.50,248.40 C417.58,248.00 418.50,247.73 419.50,246.00 C420.50,244.27 421.50,241.00 422.50,238.00 C423.50,235.00 424.50,230.67 425.50,228.00 C426.50,225.33 427.08,223.50 428.50,222.00 C429.92,220.50 431.28,219.72 434.00,219.00 C436.72,218.28 443.00,217.92 444.80,217.70" fill="none" stroke="#555" stroke-width="0.75"/>
<path d="M354.50,228.30 C356.42,228.30 363.42,228.10 366.00,228.30 C368.58,228.50 368.67,228.63 370.00,229.50 C371.33,230.37 372.67,231.92 374.00,233.50 C375.33,235.08 376.53,237.38 378.00,239.00 C379.47,240.62 381.13,242.43 382.80,243.20 C384.47,243.97 386.13,243.62 388.00,243.60 C389.87,243.58 392.17,243.25 394.00,243.10 C395.83,242.95 397.58,242.63 399.00,242.70 C400.42,242.77 401.38,243.08 402.50,243.50 C403.62,243.92 404.78,244.12 405.70,245.20 C406.62,246.28 407.12,247.87 408.00,250.00 C408.88,252.13 409.67,256.00 411.00,258.00 C412.33,260.00 414.33,262.00 416.00,262.00 C417.67,262.00 419.67,260.00 421.00,258.00 C422.33,256.00 423.13,252.17 424.00,250.00 C424.87,247.83 425.20,247.33 426.20,245.00 C427.20,242.67 428.60,238.58 430.00,236.00 C431.40,233.42 433.27,230.77 434.60,229.50 C435.93,228.23 436.30,228.60 438.00,228.40 C439.70,228.20 443.67,228.32 444.80,228.30" fill="none" stroke="#555" stroke-width="0.75"/>
<text x="363.7" y="240.3" font-size="6.8" font-style="italic" text-anchor="middle" fill="#222">p</text>
<text x="435.0" y="240.3" font-size="6.8" font-style="italic" text-anchor="middle" fill="#222">p</text>
<text x="57" y="254.5" font-size="6" text-anchor="middle" fill="#222">LSQ</text>
<text x="401" y="254.5" font-size="6" text-anchor="middle" fill="#222">SQ</text>
</svg>
</body></html>
